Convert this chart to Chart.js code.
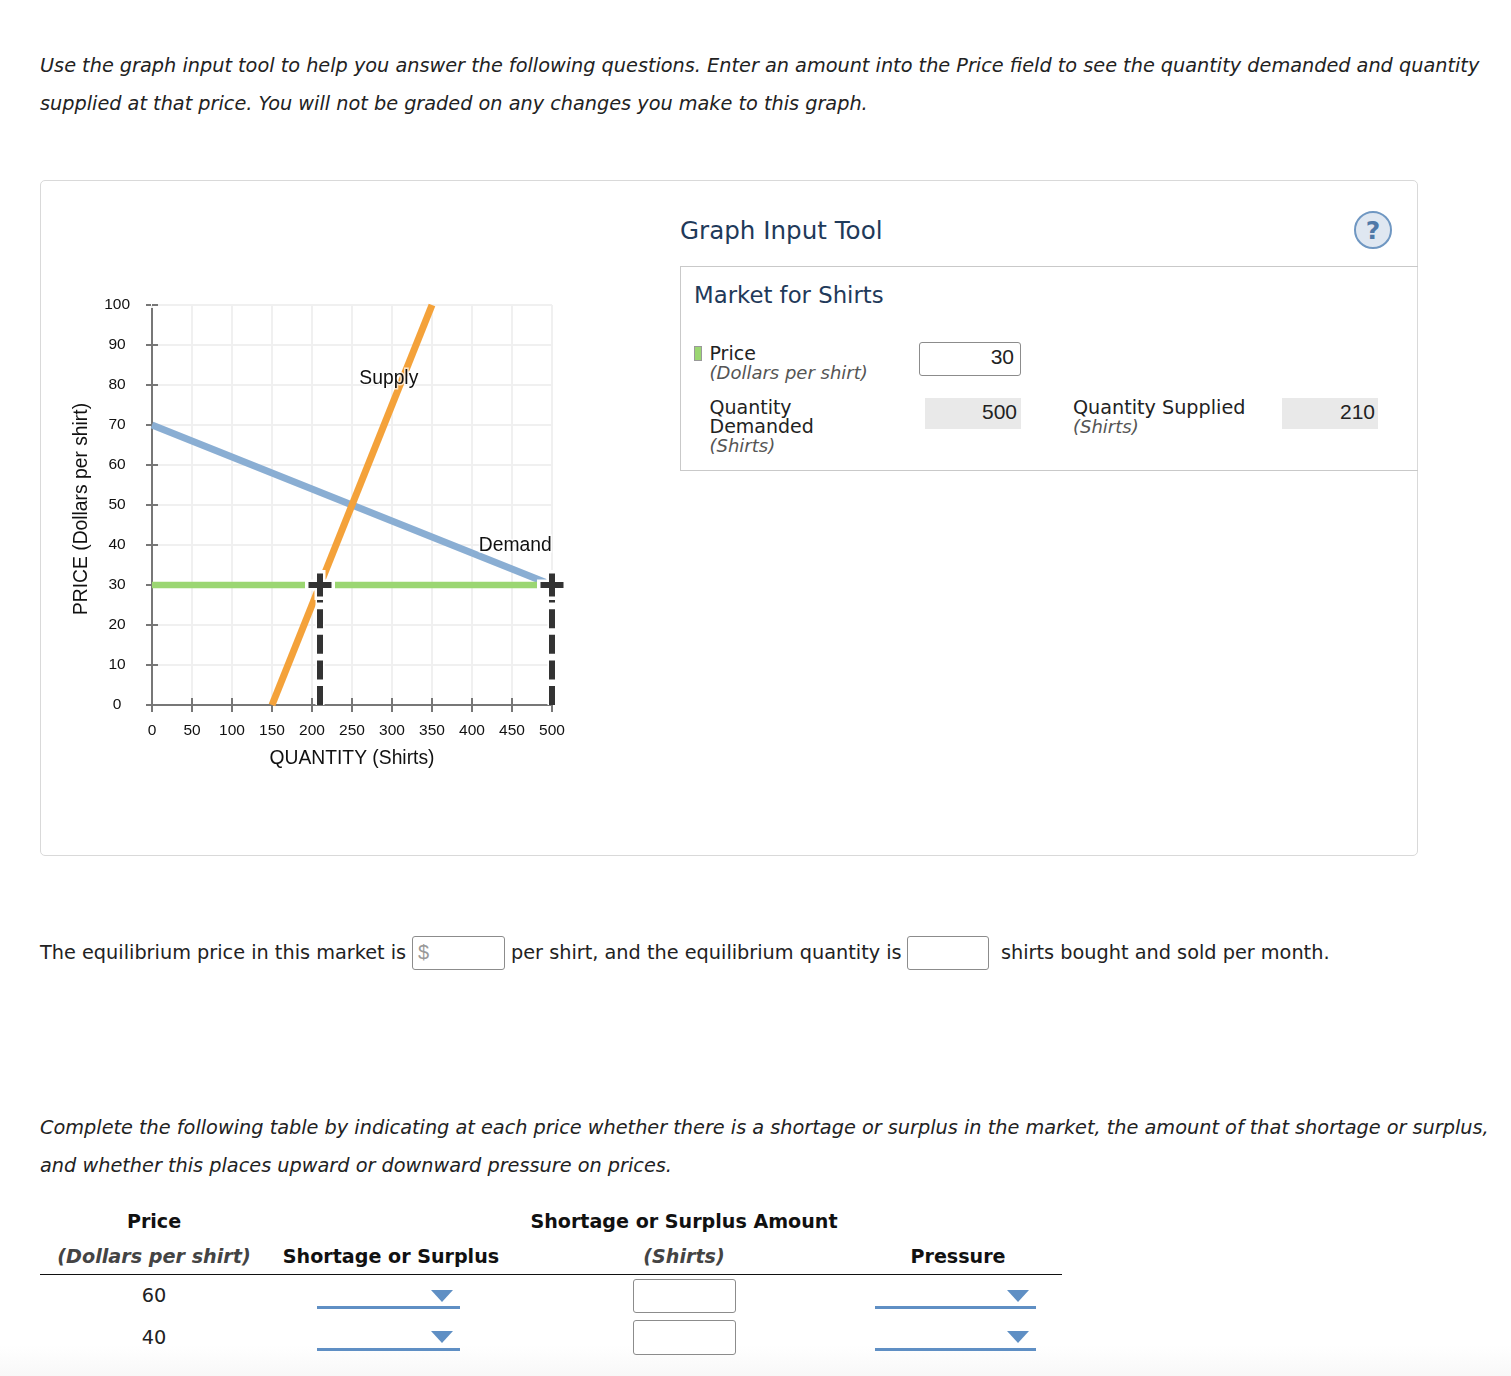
<!DOCTYPE html>
<html><head><meta charset="utf-8">
<script src="https://cdn.jsdelivr.net/npm/chart.js@4/dist/chart.umd.js"></script>
<style>
html,body{margin:0;padding:0;background:#fff}
body{position:relative;width:1511px;height:1376px;overflow:hidden;font-family:"DejaVu Sans",sans-serif;color:#222;
 background:linear-gradient(#fff 0,#fff 1345px,#f8f8f8 1376px)}
.t{position:absolute;white-space:nowrap;line-height:24px;height:24px}
.n{line-height:19px;height:19px}
.i{font-style:italic}
.b{font-weight:bold}
.c{transform:translateX(-50%)}
.r{transform:translateX(-100%)}
.box{position:absolute;box-sizing:border-box;background:#fff;border:1px solid #8c8c8c;border-radius:3px}
.ro{position:absolute;background:#e9e9e9}
.line{position:absolute;background:#5f8fc4}
.tri{position:absolute;width:0;height:0;border-left:11.5px solid transparent;border-right:11.5px solid transparent;border-top:12px solid #5f8fc4}
.nav{color:#1f3a5a}
.sub{color:#555}
#wrap{position:absolute;left:60px;top:279px;width:520px;height:501px}
</style></head><body>
<div class="t i" style="left:40px;top:54px;font-size:19.28px">Use the graph input tool to help you answer the following questions. Enter an amount into the Price field to see the quantity demanded and quantity</div>
<div class="t i" style="left:40px;top:92px;font-size:19.28px">supplied at that price. You will not be graded on any changes you make to this graph.</div>

<div style="position:absolute;left:40px;top:180px;width:1378px;height:676px;box-sizing:border-box;border:1px solid #d9d9d9;border-radius:5px"></div>
<div class="t nav" style="left:680px;top:219px;font-size:24.6px">Graph Input Tool</div>
<div style="position:absolute;left:1354px;top:211px;width:38px;height:38px;box-sizing:border-box;border:2px solid #6f97c2;border-radius:50%;background:#dfe7f1;color:#4f79a8;font-weight:bold;font-size:25px;line-height:35px;text-align:center">?</div>
<div style="position:absolute;left:680px;top:266px;width:738px;height:205px;box-sizing:border-box;border:1px solid #c9c9c9;border-right:none"></div>
<div class="t nav" style="left:694px;top:283px;font-size:22.8px">Market for Shirts</div>
<div style="position:absolute;left:694px;top:346px;width:8px;height:15px;box-sizing:border-box;background:#9bd672;border:1px solid #999"></div>
<div class="t n" style="left:709.5px;top:343.5px;font-size:19px">Price</div>
<div class="t n i sub" style="left:709.5px;top:362.5px;font-size:18px">(Dollars per shirt)</div>
<div class="box" style="left:919px;top:342px;width:102px;height:34px"></div>
<div class="t r" style="left:1014px;top:345px;font-size:21px;font-family:'Liberation Sans'">30</div>
<div class="t n" style="left:709.5px;top:397.5px;font-size:19px">Quantity</div>
<div class="t n" style="left:709.5px;top:416.5px;font-size:19px">Demanded</div>
<div class="t n i sub" style="left:709.5px;top:435.5px;font-size:18px">(Shirts)</div>
<div class="ro" style="left:925px;top:398px;width:96px;height:31px"></div>
<div class="t r" style="left:1017px;top:400px;font-size:21px;font-family:'Liberation Sans'">500</div>
<div class="t n" style="left:1073px;top:397.5px;font-size:19.2px">Quantity Supplied</div>
<div class="t n i sub" style="left:1073px;top:416.5px;font-size:18px">(Shirts)</div>
<div class="ro" style="left:1282px;top:398px;width:96px;height:31px"></div>
<div class="t r" style="left:1375px;top:400px;font-size:21px;font-family:'Liberation Sans'">210</div>

<div id="wrap"><canvas id="chart" width="520" height="501"></canvas></div>

<div class="t" style="left:40px;top:941px;font-size:19.3px">The equilibrium price in this market is</div>
<div class="box" style="left:412px;top:936px;width:93px;height:34px"></div>
<div class="t" style="left:418px;top:940px;font-size:20px;color:#999;font-family:'Liberation Sans'">$</div>
<div class="t" style="left:511px;top:941px;font-size:19.3px">per shirt, and the equilibrium quantity is</div>
<div class="box" style="left:907px;top:936px;width:82px;height:34px"></div>
<div class="t" style="left:1001px;top:941px;font-size:19.3px">shirts bought and sold per month.</div>

<div class="t i" style="left:40px;top:1116px;font-size:19.29px">Complete the following table by indicating at each price whether there is a shortage or surplus in the market, the amount of that shortage or surplus,</div>
<div class="t i" style="left:40px;top:1154px;font-size:19.29px">and whether this places upward or downward pressure on prices.</div>

<div class="t b c" style="left:154px;top:1210px;font-size:19.1px;color:#111">Price</div>
<div class="t b i c" style="left:154px;top:1245px;font-size:19.2px;color:#444">(Dollars per shirt)</div>
<div class="t b c" style="left:391px;top:1245px;font-size:19.1px;color:#111">Shortage or Surplus</div>
<div class="t b c" style="left:684px;top:1210px;font-size:19.1px;color:#111">Shortage or Surplus Amount</div>
<div class="t b i c" style="left:684px;top:1245px;font-size:19.1px;color:#444">(Shirts)</div>
<div class="t b c" style="left:958px;top:1245px;font-size:19.1px;color:#111">Pressure</div>
<div style="position:absolute;left:40px;top:1274px;width:1022px;height:1px;background:#111"></div>
<div class="t c" style="left:154px;top:1284px;font-size:19.3px">60</div>
<div class="t c" style="left:154px;top:1326px;font-size:19.3px">40</div>
<div class="line" style="left:317px;top:1306px;width:143px;height:3px"></div>
<div class="tri" style="left:431px;top:1290px"></div>
<div class="line" style="left:317px;top:1348px;width:143px;height:3px"></div>
<div class="tri" style="left:431px;top:1331px"></div>
<div class="box" style="left:633px;top:1279px;width:103px;height:34px"></div>
<div class="box" style="left:633px;top:1320px;width:103px;height:35px"></div>
<div class="line" style="left:875px;top:1306px;width:161px;height:3px"></div>
<div class="tri" style="left:1007px;top:1290px"></div>
<div class="line" style="left:875px;top:1348px;width:161px;height:3px"></div>
<div class="tri" style="left:1007px;top:1331px"></div>

<script>
const quantityTicks = [0,50,100,150,200,250,300,350,400,450,500];
const priceTicks = [0,10,20,30,40,50,60,70,80,90,100];
const supplyQuantity = [150,350];
const supplyPrice = [0,100];
const demandQuantity = [0,500];
const demandPrice = [70,30];
const selectedQuantity = [0,500];
const selectedPrice = [30,30];
const markerQuantity = [210,500];
const markerPrice = [30,30];
const curveLabels = ['Supply','Demand'];
const labelQuantity = [296,454];
const labelPrice = [81.5,39.8];

const pts = (xs,ys)=>xs.map((x,i)=>({x,y:ys[i]}));
const AXIS='#777777', SANS='"Liberation Sans",Arial,sans-serif';
const line=(label,data,color,width,extra)=>Object.assign({type:'line',label,data,borderColor:color,borderWidth:width,pointRadius:0,tension:0,fill:false,clip:false,borderCapStyle:'butt'},extra||{});
const guide=(q,p)=>pts([q,q],[0,p]);

const datasets=[
 line('Marker',pts(markerQuantity,markerPrice),'#333333',0,{showLine:false,pointStyle:'cross',pointRadius:11.5,pointBorderWidth:6,pointBorderColor:'#333333'}),
 line('Marker halo',pts(markerQuantity,markerPrice),'#ffffff',0,{showLine:false,pointStyle:'cross',pointRadius:15,pointBorderWidth:11,pointBorderColor:'#ffffff'}),
 line('Guide D',guide(markerQuantity[1],markerPrice[1]),'#333333',6,{borderDash:[19,6.6]}),
 line('Guide S',guide(markerQuantity[0],markerPrice[0]),'#333333',6,{borderDash:[19,6.6]}),
 line('Guide D halo',guide(markerQuantity[1],markerPrice[1]),'#ffffff',9),
 line('Guide S halo',guide(markerQuantity[0],markerPrice[0]),'#ffffff',9),
 line('Price',pts(selectedQuantity,selectedPrice),'#9bd672',6.5),
 line('Supply',pts(supplyQuantity,supplyPrice),'#f4a23a',7),
 line('Demand',pts(demandQuantity,demandPrice),'#8aaed3',7),
];

const innerTicks={id:'innerTicks',
 afterLayout(c){c.scales.y.top+=4;c.scales.y.bottom+=4;},
 beforeDatasetsDraw(c){
 const g=c.ctx,a=c.chartArea,x=c.scales.x,y=c.scales.y;
 g.save();g.strokeStyle=AXIS;g.lineWidth=2;g.beginPath();
 quantityTicks.forEach(v=>{const p=x.getPixelForValue(v);g.moveTo(p,a.bottom);g.lineTo(p,a.bottom-7);});
 priceTicks.forEach(v=>{const p=y.getPixelForValue(v);g.moveTo(a.left,p);g.lineTo(a.left+6,p);});
 g.stroke();g.restore();
}};
const curveText={id:'curveText',afterDatasetsDraw(c){
 const g=c.ctx;g.save();g.font='19.3px '+SANS;g.textAlign='center';g.textBaseline='middle';
 curveLabels.forEach((s,i)=>{const px=c.scales.x.getPixelForValue(labelQuantity[i]),py=c.scales.y.getPixelForValue(labelPrice[i]);
  g.lineWidth=3;g.strokeStyle='rgba(255,255,255,.7)';g.strokeText(s,px,py);g.fillStyle='#111';g.fillText(s,px,py);});
 g.restore();
}};

new Chart(document.getElementById('chart'),{
 data:{datasets},
 plugins:[innerTicks,curveText],
 options:{responsive:false,animation:false,devicePixelRatio:1,
  layout:{padding:{left:0,right:28,top:5,bottom:0}},
  plugins:{legend:{display:false},tooltip:{enabled:false},title:{display:false}},
  scales:{
   x:{type:'linear',min:0,max:500,
    afterBuildTicks(s){s.ticks=quantityTicks.map(value=>({value}));},
    afterFit(s){s.height=75;},
    grid:{color:'#f0f0f0',lineWidth:2,tickColor:AXIS,tickWidth:2,tickLength:7},
    border:{color:AXIS,width:2},
    ticks:{font:{family:SANS,size:15.5},color:'#111',padding:9,maxRotation:0,autoSkip:false},
    title:{display:true,text:'QUANTITY (Shirts)',font:{family:SANS,size:19.3},color:'#111',padding:{top:0,bottom:10}}
   },
   y:{type:'linear',min:0,max:100,
    afterBuildTicks(s){s.ticks=priceTicks.map(value=>({value}));},
    afterFit(s){s.width=92;},
    grid:{color:'#f0f0f0',lineWidth:2,tickColor:AXIS,tickWidth:2,tickLength:6},
    border:{color:AXIS,width:2},
    ticks:{font:{family:SANS,size:15.5},color:'#111',padding:16,crossAlign:'center',autoSkip:false},
    title:{display:true,text:'PRICE (Dollars per shirt)',font:{family:SANS,size:19.3},color:'#111',padding:{top:10,bottom:0}}
   }
  }
 }
});
</script>
</body></html>
